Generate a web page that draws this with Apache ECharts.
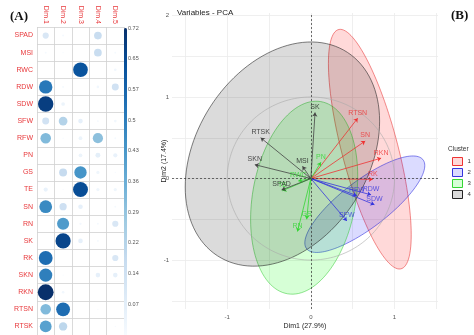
<!DOCTYPE html>
<html><head><meta charset="utf-8">
<script src="https://cdn.jsdelivr.net/npm/echarts@6/dist/echarts.min.js"></script>
<style>html,body{margin:0;padding:0;background:#fff}#c{width:474px;height:335px}</style>
</head><body><div id="c"></div>
<script>
// ---------- Panel A: cos2 of variables on dimensions ----------
const dims = ['Dim.1','Dim.2','Dim.3','Dim.4','Dim.5'];
const vars = ['SPAD','MSI','RWC','RDW','SDW','SFW','RFW','PN','GS','TE','SN','RN','SK','RK','SKN','RKN','RTSN','RTSK'];
const cos2Dim1 = [0.11,0.01,0.00,0.52,0.68,0.14,0.32,0.00,0.00,0.05,0.47,0.00,0.00,0.55,0.50,0.72,0.32,0.40];
const cos2Dim2 = [0.01,0.005,0.00,0.01,0.04,0.22,0.005,0.00,0.18,0.005,0.15,0.42,0.66,0.00,0.005,0.02,0.55,0.20];
const cos2Dim3 = [0.00,0.00,0.62,0.00,0.00,0.06,0.04,0.04,0.44,0.64,0.06,0.015,0.06,0.00,0.00,0.00,0.00,0.00];
const cos2Dim4 = [0.17,0.17,0.00,0.02,0.00,0.01,0.30,0.07,0.03,0.03,0.00,0.01,0.01,0.00,0.06,0.00,0.005,0.00];
const cos2Dim5 = [0.00,0.01,0.02,0.14,0.00,0.02,0.01,0.05,0.005,0.03,0.01,0.11,0.00,0.11,0.06,0.00,0.00,0.005];
const colorbarLabels = ['0.07','0.14','0.22','0.29','0.36','0.43','0.5','0.57','0.65','0.72'];
const cos2Max = 0.7185;

// ---------- Panel B: PCA variable coordinates ----------
const pcaX = [-0.35,-0.10,-0.15,0.72,0.76,0.43,0.55,0.12,-0.05,-0.34,0.65,-0.16,0.05,0.74,-0.67,0.84,0.56,-0.60];
const pcaY = [-0.14,0.15,-0.03,-0.20,-0.32,-0.52,-0.21,0.20,-0.50,-0.15,0.46,-0.65,0.81,-0.01,0.17,0.25,0.74,0.50];
const varCluster = [4,4,3,2,2,2,2,3,3,3,1,3,4,1,4,1,1,4];
const clusters = ['1','2','3','4'];
// cluster ellipses: centre and covariance
const ellCx = [0.705, 0.645, -0.08, -0.34];
const ellCy = [0.36, -0.315, -0.235, 0.30];
const ellSxx = [0.245, 0.514, 0.41, 1.35];
const ellSyy = [2.16, 0.35, 1.40, 1.89];
const ellSxy = [-0.52, 0.34, 0.17, 0.47];
const xTicks = [-1.5,-1,-0.5,0,0.5,1,1.5];
const xLabels = [-1,0,1];
const yTicks = [-1.5,-1,-0.5,0,0.5,1,1.5,2];
const yLabels = [-1,0,1,2];

const clColors = ['#EE3333','#3535DD','#33D633','#222222'];
const clFills = ['rgba(255,0,0,0.15)','rgba(0,0,255,0.14)','rgba(0,255,0,0.16)','rgba(0,0,0,0.14)'];
const clStroke = ['rgba(230,40,40,0.75)','rgba(40,40,220,0.8)','rgba(40,200,40,0.7)','rgba(40,40,40,0.85)'];
const FONT = '"Liberation Sans", Arial, sans-serif';
const RED = '#E8383B';

const cos2Cols = [cos2Dim1,cos2Dim2,cos2Dim3,cos2Dim4,cos2Dim5];
const corrData = [];
cos2Cols.forEach((col, ci) => col.forEach((v, ri) => corrData.push([ci, ri, v])));

const chart = echarts.init(document.getElementById('c'), null, {renderer:'canvas'});

function ellipseRender(i){
  return function(params, api){
    const L11 = Math.sqrt(ellSxx[i]);
    const L21 = ellSxy[i] / L11;
    const L22 = Math.sqrt(ellSyy[i] - L21 * L21);
    const pts = [];
    for (let k = 0; k <= 120; k++) {
      const t = 2 * Math.PI * k / 120;
      pts.push(api.coord([ellCx[i] + L11 * Math.cos(t), ellCy[i] + L21 * Math.cos(t) + L22 * Math.sin(t)]));
    }
    return {type:'polygon', shape:{points:pts}, style:{fill:clFills[i], stroke:clStroke[i], lineWidth:0.7}};
  };
}

const series = [];
series.push({
  type:'scatter', xAxisIndex:0, yAxisIndex:0, data:corrData, silent:true,
  symbolSize: d => 15.8 * Math.sqrt(Math.max(d[2],0) / cos2Max),
  itemStyle:{opacity:1}
});
clusters.forEach((c, i) => {
  series.push({
    type:'custom', name:c, xAxisIndex:1, yAxisIndex:1, data:[[0,0]], silent:true, z:1,
    renderItem: ellipseRender(i),
    itemStyle:{color:clFills[i], borderColor:clColors[i]}
  });
});
series.push({
  type:'custom', xAxisIndex:1, yAxisIndex:1, data:[[0,0]], silent:true, z:2,
  renderItem: function(params, api){
    const pts = [];
    for (let k = 0; k <= 160; k++) { const t = 2*Math.PI*k/160; pts.push(api.coord([Math.cos(t), Math.sin(t)])); }
    return {type:'polyline', shape:{points:pts}, style:{stroke:'#AAAAAA', fill:null, lineWidth:0.6}};
  }
});
clusters.forEach((c, i) => {
  const idx = vars.map((v, k) => k).filter(k => varCluster[k] === i + 1);
  series.push({
    type:'lines', coordinateSystem:'cartesian2d', xAxisIndex:1, yAxisIndex:1, silent:true, z:3,
    symbol:['none','arrow'], symbolSize:4,
    lineStyle:{color: i === 3 ? '#444' : clColors[i], width:0.8, opacity:1},
    data: idx.map(k => ({coords:[[0,0],[pcaX[k], pcaY[k]]]}))
  });
  const lab = {
    type:'scatter', xAxisIndex:1, yAxisIndex:1, silent:true, z:4, symbolSize:2,
    itemStyle:{color:'rgba(0,0,0,0)'},
    label:{show:true, position:'top', distance:1, formatter: p => p.data[2], color: clColors[i], fontSize:7, fontFamily:FONT},
    labelLayout:{hideOverlap:false},
    data: idx.map(k => [pcaX[k], pcaY[k], vars[k]])
  };
  if (i === 3) {
    lab.markLine = {silent:true, symbol:'none', label:{show:false}, animation:false,
      lineStyle:{type:[2,2], color:'#333', width:0.7},
      data:[{xAxis:0},{yAxis:0}]};
  }
  series.push(lab);
});
series.push({type:'scatter', xAxisIndex:2, yAxisIndex:2, data:[], silent:true});

const option = {
  animation:false,
  backgroundColor:'#fff',
  textStyle:{fontFamily:FONT},
  title:[
    {text:'(A)', left:5, top:5, textStyle:{fontFamily:'"Liberation Serif", serif', fontWeight:'bold', fontSize:13, color:'#111'}},
    {text:'(B)', left:446, top:4, textStyle:{fontFamily:'"Liberation Serif", serif', fontWeight:'bold', fontSize:13, color:'#111'}},
    {text:'Variables - PCA', left:172, top:4, textStyle:{fontFamily:FONT, fontWeight:'normal', fontSize:8, color:'#222'}},
    {text:'Cluster', left:443, top:141, textStyle:{fontFamily:FONT, fontWeight:'normal', fontSize:6.5, color:'#333'}}
  ],
  legend:{
    orient:'vertical', left:447, top:152, itemWidth:10, itemHeight:8, itemGap:2,
    textStyle:{fontSize:6, color:'#333', fontFamily:FONT},
    data: clusters.map((c, i) => ({name:c, icon:'rect', itemStyle:{color:clFills[i], borderColor:clColors[i], borderWidth:1}})),
    selectedMode:false
  },
  grid:[
    {left:37, top:27, width:87, height:308, show:false},
    {left:172, top:13, width:266, height:303, show:false},
    {left:124, top:28, width:3, height:308, show:false}
  ],
  visualMap:[{
    type:'continuous', seriesIndex:0, dimension:2, min:0, max:cos2Max,
    show:true, calculable:false, hoverLink:false, text:null,
    itemWidth:3, itemHeight:308, left:124, top:28, padding:0,
    inRange:{color:['#F7FBFF','#DEEBF7','#C6DBEF','#9ECAE1','#6BAED6','#4292C6','#2171B5','#08519C','#08306B']}
  }],
  xAxis:[
    {gridIndex:0, type:'category', data:dims, position:'top',
      axisLine:{show:false}, axisTick:{show:false},
      axisLabel:{rotate:90, color:RED, fontSize:7, margin:3, fontFamily:FONT},
      splitLine:{show:true, lineStyle:{color:'#D0D0D0', width:0.8}}},
    {gridIndex:1, type:'value', min:-1.66, max:1.52,
      name:'Dim1 (27.9%)', nameLocation:'middle', nameGap:14, nameMoveOverlap:false,
      nameTextStyle:{fontSize:7, color:'#222', fontFamily:FONT},
      axisLine:{show:false}, axisTick:{show:false, customValues:xTicks},
      axisLabel:{customValues:xLabels, fontSize:6, color:'#555', margin:5},
      splitLine:{show:true, lineStyle:{color:'#EBEBEB', width:0.8}}},
    {gridIndex:2, type:'value', show:false}
  ],
  yAxis:[
    {gridIndex:0, type:'category', data:vars, inverse:true,
      axisLine:{show:false}, axisTick:{show:false},
      axisLabel:{color:RED, fontSize:7, margin:4, fontFamily:FONT},
      splitLine:{show:true, lineStyle:{color:'#D0D0D0', width:0.8}}},
    {gridIndex:1, type:'value', min:-1.6, max:2.03,
      name:'Dim2 (17.4%)', nameLocation:'middle', nameGap:4, nameRotate:90, nameMoveOverlap:false,
      nameTextStyle:{fontSize:7, color:'#222', fontFamily:FONT},
      axisLine:{show:false}, axisTick:{show:false, customValues:yTicks},
      axisLabel:{customValues:yLabels, fontSize:6, color:'#555', margin:3},
      splitLine:{show:true, lineStyle:{color:'#EBEBEB', width:0.8}}},
    {gridIndex:2, type:'value', min:0, max:10, interval:1, position:'right',
      axisLine:{show:false}, axisTick:{show:true, length:2, lineStyle:{color:'#999'}},
      axisLabel:{fontSize:5.5, color:'#555', margin:1, formatter: v => colorbarLabels[v-1] || ''},
      splitLine:{show:false}}
  ],
  series: series
};
chart.setOption(option);
</script></body></html>
